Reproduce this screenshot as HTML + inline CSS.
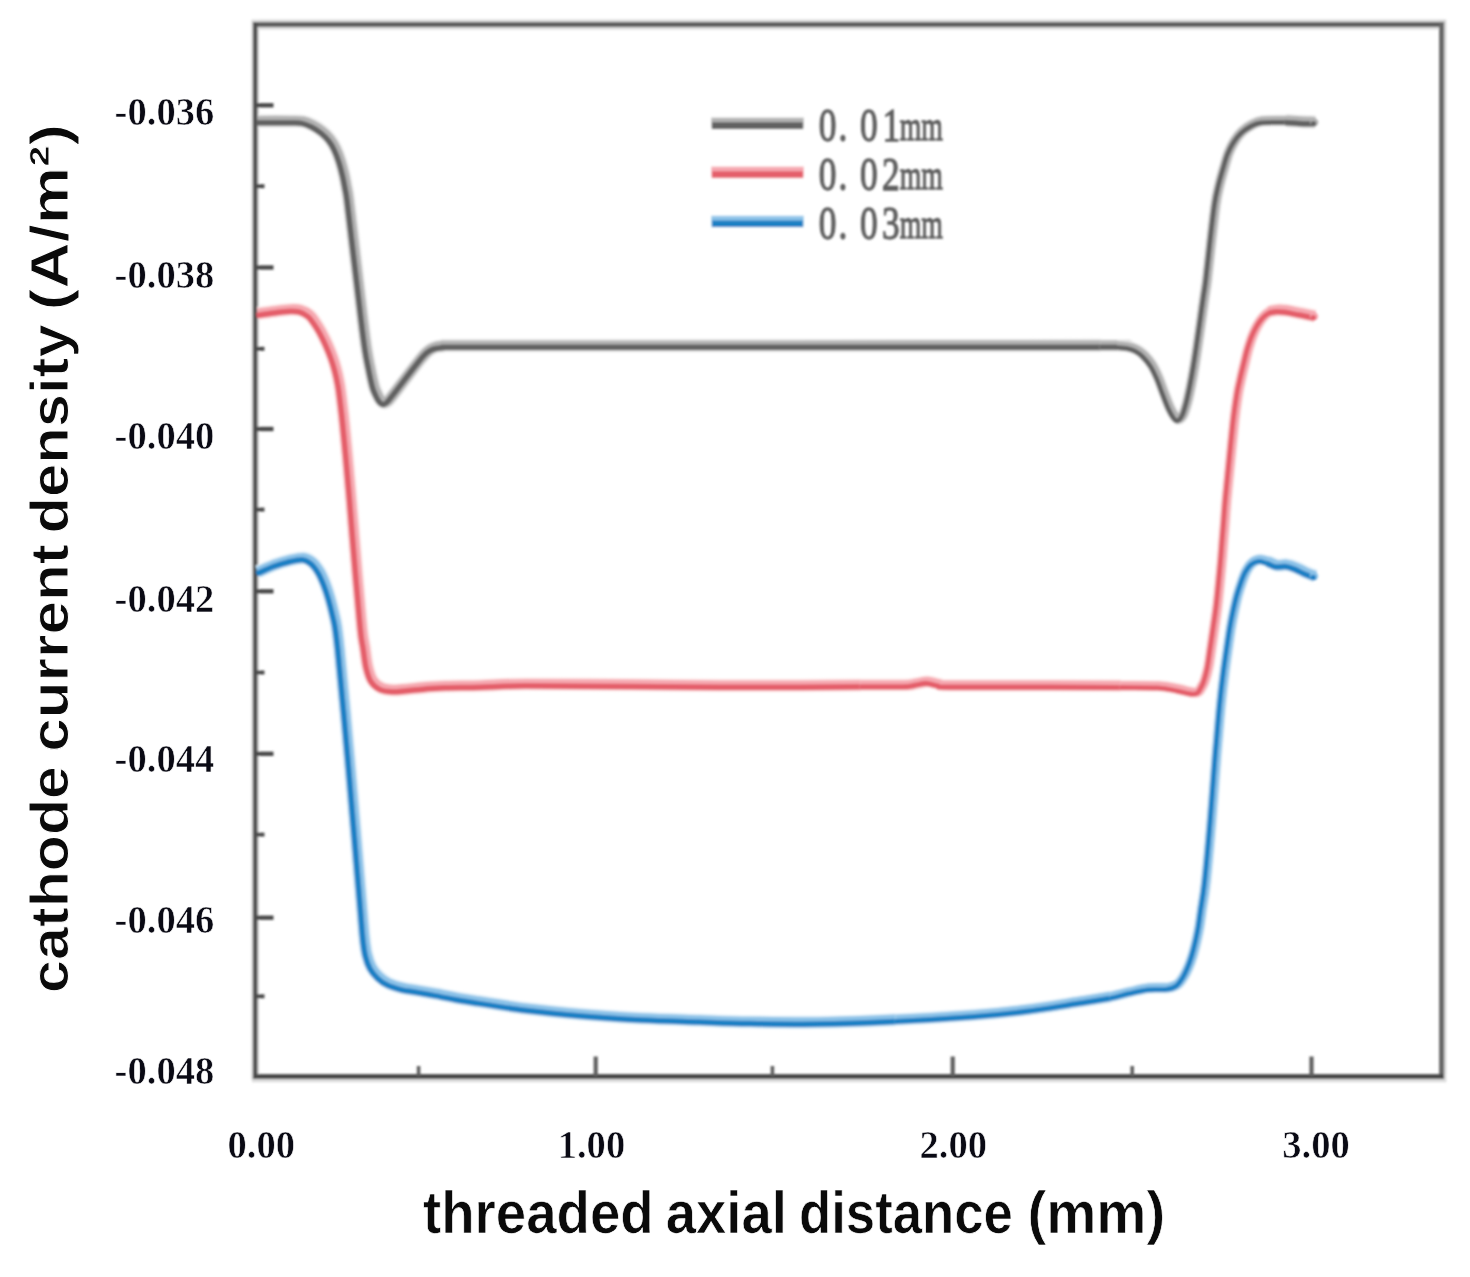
<!DOCTYPE html>
<html lang="en">
<head>
<meta charset="utf-8">
<title>Cathode current density vs threaded axial distance</title>
<style>
html,body{margin:0;padding:0;background:#fff;}
body{width:1470px;height:1277px;overflow:hidden;}
svg{display:block;}
.tick{font-family:"Liberation Serif","DejaVu Serif",serif;font-weight:bold;font-size:38.6px;fill:#0a0a14;stroke:#ffffff;stroke-width:0.6px;}
.title{font-family:"Liberation Sans","DejaVu Sans",sans-serif;font-weight:bold;font-size:56px;fill:#0a0a0a;stroke:#ffffff;stroke-width:0.7px;}
.leg{font-family:"Liberation Serif","Noto Serif CJK SC",serif;font-size:42px;fill:#5e5e5e;stroke:#5e5e5e;stroke-width:1.25px;}
</style>
</head>
<body>
<svg width="1470" height="1277" viewBox="0 0 1470 1277">
<defs>
<filter id="soft" x="-2%" y="-2%" width="104%" height="104%"><feGaussianBlur stdDeviation="0.9"/></filter>
<filter id="soft2" x="-5%" y="-20%" width="110%" height="140%"><feGaussianBlur stdDeviation="0.8"/></filter>
</defs>
<rect x="0" y="0" width="1470" height="1277" fill="#ffffff"/>
<g filter="url(#soft)">
<g fill="none" stroke-linecap="butt">
<line x1="252" y1="24.5" x2="1446" y2="24.5" stroke="#dadada" stroke-width="10"/>
<line x1="1442.6" y1="20" x2="1442.6" y2="1082" stroke="#d6d6d6" stroke-width="7.5"/>
<line x1="252" y1="1078" x2="1446" y2="1078" stroke="#dcdcdc" stroke-width="8.5"/>
<line x1="255.2" y1="20" x2="255.2" y2="1080" stroke="#dedede" stroke-width="8"/>
<line x1="253" y1="24.5" x2="1444" y2="24.5" stroke="#5e5e5e" stroke-width="5.2"/>
<line x1="1441.6" y1="22" x2="1441.6" y2="1079" stroke="#666666" stroke-width="5"/>
<line x1="255.2" y1="22" x2="255.2" y2="1079" stroke="#505050" stroke-width="4.6"/>
<line x1="253" y1="1076.6" x2="1444" y2="1076.6" stroke="#484848" stroke-width="5"/>
<line x1="256" y1="105.3" x2="273.5" y2="105.3" stroke="#4a4a4a" stroke-width="4.4"/>
<line x1="256" y1="267.5" x2="273.5" y2="267.5" stroke="#4a4a4a" stroke-width="4.4"/>
<line x1="256" y1="429.0" x2="273.5" y2="429.0" stroke="#4a4a4a" stroke-width="4.4"/>
<line x1="256" y1="591.3" x2="273.5" y2="591.3" stroke="#4a4a4a" stroke-width="4.4"/>
<line x1="256" y1="753.8" x2="273.5" y2="753.8" stroke="#4a4a4a" stroke-width="4.4"/>
<line x1="256" y1="917.7" x2="273.5" y2="917.7" stroke="#4a4a4a" stroke-width="4.4"/>
<line x1="256" y1="186.2" x2="264.5" y2="186.2" stroke="#4a4a4a" stroke-width="4"/>
<line x1="256" y1="348.8" x2="264.5" y2="348.8" stroke="#4a4a4a" stroke-width="4"/>
<line x1="256" y1="509.6" x2="264.5" y2="509.6" stroke="#4a4a4a" stroke-width="4"/>
<line x1="256" y1="672.5" x2="264.5" y2="672.5" stroke="#4a4a4a" stroke-width="4"/>
<line x1="256" y1="834.6" x2="264.5" y2="834.6" stroke="#4a4a4a" stroke-width="4"/>
<line x1="256" y1="996.3" x2="264.5" y2="996.3" stroke="#4a4a4a" stroke-width="4"/>
<line x1="595.7" y1="1056.5" x2="595.7" y2="1076" stroke="#606060" stroke-width="4.2"/>
<line x1="952.7" y1="1056.5" x2="952.7" y2="1076" stroke="#606060" stroke-width="4.2"/>
<line x1="1311.5" y1="1056.5" x2="1311.5" y2="1076" stroke="#606060" stroke-width="4.2"/>
<line x1="418.6" y1="1066" x2="418.6" y2="1076" stroke="#606060" stroke-width="3.6"/>
<line x1="772.4" y1="1066" x2="772.4" y2="1076" stroke="#606060" stroke-width="3.6"/>
<line x1="1132.2" y1="1066" x2="1132.2" y2="1076" stroke="#606060" stroke-width="3.6"/>
</g>
<g fill="none" stroke-linecap="butt" stroke-linejoin="round">
<path d="M257.0,122.0 C262.7,122.0 283.4,121.9 291.0,122.0 C298.6,122.1 298.9,121.9 302.4,122.6 C305.9,123.3 308.7,124.6 311.9,126.2 C315.1,127.8 318.5,130.1 321.4,132.4 C324.2,134.7 326.8,137.2 329.0,140.0 C331.2,142.8 333.1,145.8 334.8,149.5 C336.6,153.2 338.1,157.5 339.5,161.9 C340.9,166.3 342.3,171.8 343.3,176.2 C344.3,180.5 344.9,184.0 345.6,188.0 C346.3,192.0 346.5,191.3 347.6,200.0 C348.7,208.7 350.7,226.7 352.3,240.0 C353.9,253.3 355.4,266.7 357.0,280.0 C358.6,293.3 360.3,308.3 361.7,320.0 C363.1,331.7 364.4,341.9 365.6,350.0 C366.8,358.1 367.8,362.4 369.0,368.5 C370.2,374.6 371.8,382.2 373.0,386.7 C374.2,391.2 375.4,393.1 376.5,395.5 C377.6,397.9 378.5,399.6 379.6,401.0 C380.7,402.4 382.0,403.6 383.3,403.7 C384.6,403.8 385.9,402.8 387.2,401.7 C388.5,400.6 388.6,400.3 391.0,397.3 C393.4,394.3 398.3,388.0 401.6,383.6 C404.9,379.2 408.2,374.9 411.0,371.2 C413.8,367.5 416.2,364.4 418.5,361.6 C420.8,358.8 422.6,356.5 424.5,354.6 C426.4,352.7 428.1,351.2 430.0,350.1 C431.9,349.0 433.8,348.2 436.0,347.7 C438.2,347.1 440.3,347.0 443.0,346.8 C445.7,346.6 434.2,346.6 452.0,346.5 C469.8,346.4 492.0,346.5 550.0,346.5 C608.0,346.5 708.3,346.5 800.0,346.5 C891.7,346.5 1047.3,346.4 1100.0,346.4" stroke="#ececec" stroke-width="13.6" transform="translate(1,-1)"/>
<path d="M257.0,122.0 C262.7,122.0 283.4,121.9 291.0,122.0 C298.6,122.1 298.9,121.9 302.4,122.6 C305.9,123.3 308.7,124.6 311.9,126.2 C315.1,127.8 318.5,130.1 321.4,132.4 C324.2,134.7 326.8,137.2 329.0,140.0 C331.2,142.8 333.1,145.8 334.8,149.5 C336.6,153.2 338.1,157.5 339.5,161.9 C340.9,166.3 342.3,171.8 343.3,176.2 C344.3,180.5 344.9,184.0 345.6,188.0 C346.3,192.0 346.5,191.3 347.6,200.0 C348.7,208.7 350.7,226.7 352.3,240.0 C353.9,253.3 355.4,266.7 357.0,280.0 C358.6,293.3 360.3,308.3 361.7,320.0 C363.1,331.7 364.4,341.9 365.6,350.0 C366.8,358.1 367.8,362.4 369.0,368.5 C370.2,374.6 371.8,382.2 373.0,386.7 C374.2,391.2 375.4,393.1 376.5,395.5 C377.6,397.9 378.5,399.6 379.6,401.0 C380.7,402.4 382.0,403.6 383.3,403.7 C384.6,403.8 385.9,402.8 387.2,401.7 C388.5,400.6 388.6,400.3 391.0,397.3 C393.4,394.3 398.3,388.0 401.6,383.6 C404.9,379.2 408.2,374.9 411.0,371.2 C413.8,367.5 416.2,364.4 418.5,361.6 C420.8,358.8 422.6,356.5 424.5,354.6 C426.4,352.7 428.1,351.2 430.0,350.1 C431.9,349.0 433.8,348.2 436.0,347.7 C438.2,347.1 440.3,347.0 443.0,346.8 C445.7,346.6 434.2,346.6 452.0,346.5 C469.8,346.4 492.0,346.5 550.0,346.5 C608.0,346.5 708.3,346.5 800.0,346.5 C891.7,346.5 1047.3,346.4 1100.0,346.4" stroke="#b2b2b2" stroke-width="10.4" transform="translate(0.8,-0.9)"/>
<path d="M257.0,122.0 C262.7,122.0 283.4,121.9 291.0,122.0 C298.6,122.1 298.9,121.9 302.4,122.6 C305.9,123.3 308.7,124.6 311.9,126.2 C315.1,127.8 318.5,130.1 321.4,132.4 C324.2,134.7 326.8,137.2 329.0,140.0 C331.2,142.8 333.1,145.8 334.8,149.5 C336.6,153.2 338.1,157.5 339.5,161.9 C340.9,166.3 342.3,171.8 343.3,176.2 C344.3,180.5 344.9,184.0 345.6,188.0 C346.3,192.0 346.5,191.3 347.6,200.0 C348.7,208.7 350.7,226.7 352.3,240.0 C353.9,253.3 355.4,266.7 357.0,280.0 C358.6,293.3 360.3,308.3 361.7,320.0 C363.1,331.7 364.4,341.9 365.6,350.0 C366.8,358.1 367.8,362.4 369.0,368.5 C370.2,374.6 371.8,382.2 373.0,386.7 C374.2,391.2 375.4,393.1 376.5,395.5 C377.6,397.9 378.5,399.6 379.6,401.0 C380.7,402.4 382.0,403.6 383.3,403.7 C384.6,403.8 385.9,402.8 387.2,401.7 C388.5,400.6 388.6,400.3 391.0,397.3 C393.4,394.3 398.3,388.0 401.6,383.6 C404.9,379.2 408.2,374.9 411.0,371.2 C413.8,367.5 416.2,364.4 418.5,361.6 C420.8,358.8 422.6,356.5 424.5,354.6 C426.4,352.7 428.1,351.2 430.0,350.1 C431.9,349.0 433.8,348.2 436.0,347.7 C438.2,347.1 440.3,347.0 443.0,346.8 C445.7,346.6 434.2,346.6 452.0,346.5 C469.8,346.4 492.0,346.5 550.0,346.5 C608.0,346.5 708.3,346.5 800.0,346.5 C891.7,346.5 1047.3,346.4 1100.0,346.4" stroke="#626262" stroke-width="5.5" transform="translate(-0.5,0.8)"/>
<path d="M1100.0,346.4 C1152.7,346.4 1111.5,346.3 1116.0,346.5" stroke="#ececec" stroke-width="12.9" transform="translate(1,-1)"/>
<path d="M1100.0,346.4 C1152.7,346.4 1111.5,346.3 1116.0,346.5" stroke="#b2b2b2" stroke-width="9.9" transform="translate(0.8,-0.9)"/>
<path d="M1100.0,346.4 C1152.7,346.4 1111.5,346.3 1116.0,346.5" stroke="#626262" stroke-width="5.2" transform="translate(-0.5,0.8)"/>
<path d="M1116.0,346.5 C1120.5,346.7 1123.8,347.0 1127.0,347.6 C1130.2,348.2 1132.8,349.0 1135.5,350.4 C1138.2,351.8 1140.7,353.6 1143.3,356.2 C1145.9,358.8 1148.6,361.9 1151.0,365.7 C1153.4,369.5 1155.5,374.2 1157.6,379.0 C1159.6,383.8 1161.4,389.4 1163.3,394.3 C1165.2,399.2 1167.2,404.8 1169.0,408.6 C1170.8,412.4 1172.4,415.2 1173.8,417.1 C1175.2,419.0 1176.2,420.3 1177.6,420.0 C1179.0,419.7 1181.0,417.9 1182.4,415.2 C1183.8,412.5 1184.9,408.6 1186.2,403.8 C1187.5,399.1 1188.7,393.1 1190.0,386.7 C1191.3,380.3 1192.7,372.4 1193.8,365.7 C1194.9,359.0 1195.6,354.3 1196.7,346.7 C1197.8,339.1 1199.4,327.8 1200.5,320.0 C1201.6,312.2 1202.3,306.7 1203.3,300.0 C1204.2,293.3 1205.1,289.2 1206.2,280.0 C1207.3,270.8 1208.6,257.5 1210.0,245.0 C1211.4,232.5 1213.4,214.7 1214.8,204.8 C1216.2,194.9 1217.2,191.7 1218.6,185.7 C1220.0,179.7 1221.7,174.0 1223.3,168.6 C1224.9,163.2 1226.2,157.8 1228.0,153.3 C1229.8,148.9 1231.6,145.4 1233.8,141.9 C1236.0,138.4 1238.5,135.1 1241.4,132.4 C1244.3,129.7 1247.7,127.4 1251.0,125.7 C1254.3,124.0 1255.7,122.7 1261.4,122.0 C1267.1,121.3 1278.8,121.5 1285.2,121.6" stroke="#ececec" stroke-width="12.0" transform="translate(1,-1)"/>
<path d="M1116.0,346.5 C1120.5,346.7 1123.8,347.0 1127.0,347.6 C1130.2,348.2 1132.8,349.0 1135.5,350.4 C1138.2,351.8 1140.7,353.6 1143.3,356.2 C1145.9,358.8 1148.6,361.9 1151.0,365.7 C1153.4,369.5 1155.5,374.2 1157.6,379.0 C1159.6,383.8 1161.4,389.4 1163.3,394.3 C1165.2,399.2 1167.2,404.8 1169.0,408.6 C1170.8,412.4 1172.4,415.2 1173.8,417.1 C1175.2,419.0 1176.2,420.3 1177.6,420.0 C1179.0,419.7 1181.0,417.9 1182.4,415.2 C1183.8,412.5 1184.9,408.6 1186.2,403.8 C1187.5,399.1 1188.7,393.1 1190.0,386.7 C1191.3,380.3 1192.7,372.4 1193.8,365.7 C1194.9,359.0 1195.6,354.3 1196.7,346.7 C1197.8,339.1 1199.4,327.8 1200.5,320.0 C1201.6,312.2 1202.3,306.7 1203.3,300.0 C1204.2,293.3 1205.1,289.2 1206.2,280.0 C1207.3,270.8 1208.6,257.5 1210.0,245.0 C1211.4,232.5 1213.4,214.7 1214.8,204.8 C1216.2,194.9 1217.2,191.7 1218.6,185.7 C1220.0,179.7 1221.7,174.0 1223.3,168.6 C1224.9,163.2 1226.2,157.8 1228.0,153.3 C1229.8,148.9 1231.6,145.4 1233.8,141.9 C1236.0,138.4 1238.5,135.1 1241.4,132.4 C1244.3,129.7 1247.7,127.4 1251.0,125.7 C1254.3,124.0 1255.7,122.7 1261.4,122.0 C1267.1,121.3 1278.8,121.5 1285.2,121.6" stroke="#b2b2b2" stroke-width="9.2" transform="translate(0.8,-0.9)"/>
<path d="M1116.0,346.5 C1120.5,346.7 1123.8,347.0 1127.0,347.6 C1130.2,348.2 1132.8,349.0 1135.5,350.4 C1138.2,351.8 1140.7,353.6 1143.3,356.2 C1145.9,358.8 1148.6,361.9 1151.0,365.7 C1153.4,369.5 1155.5,374.2 1157.6,379.0 C1159.6,383.8 1161.4,389.4 1163.3,394.3 C1165.2,399.2 1167.2,404.8 1169.0,408.6 C1170.8,412.4 1172.4,415.2 1173.8,417.1 C1175.2,419.0 1176.2,420.3 1177.6,420.0 C1179.0,419.7 1181.0,417.9 1182.4,415.2 C1183.8,412.5 1184.9,408.6 1186.2,403.8 C1187.5,399.1 1188.7,393.1 1190.0,386.7 C1191.3,380.3 1192.7,372.4 1193.8,365.7 C1194.9,359.0 1195.6,354.3 1196.7,346.7 C1197.8,339.1 1199.4,327.8 1200.5,320.0 C1201.6,312.2 1202.3,306.7 1203.3,300.0 C1204.2,293.3 1205.1,289.2 1206.2,280.0 C1207.3,270.8 1208.6,257.5 1210.0,245.0 C1211.4,232.5 1213.4,214.7 1214.8,204.8 C1216.2,194.9 1217.2,191.7 1218.6,185.7 C1220.0,179.7 1221.7,174.0 1223.3,168.6 C1224.9,163.2 1226.2,157.8 1228.0,153.3 C1229.8,148.9 1231.6,145.4 1233.8,141.9 C1236.0,138.4 1238.5,135.1 1241.4,132.4 C1244.3,129.7 1247.7,127.4 1251.0,125.7 C1254.3,124.0 1255.7,122.7 1261.4,122.0 C1267.1,121.3 1278.8,121.5 1285.2,121.6" stroke="#626262" stroke-width="4.8" transform="translate(-0.5,0.8)"/>
<path d="M1285.2,121.6 C1291.6,121.7 1295.1,122.4 1300.0,122.6 C1304.9,122.8 1312.1,122.9 1314.5,123.0" stroke="#ececec" stroke-width="13.6" transform="translate(1,-1)"/>
<path d="M1285.2,121.6 C1291.6,121.7 1295.1,122.4 1300.0,122.6 C1304.9,122.8 1312.1,122.9 1314.5,123.0" stroke="#b2b2b2" stroke-width="10.4" transform="translate(0.8,-0.9)"/>
<path d="M1285.2,121.6 C1291.6,121.7 1295.1,122.4 1300.0,122.6 C1304.9,122.8 1312.1,122.9 1314.5,123.0" stroke="#626262" stroke-width="5.5" transform="translate(-0.5,0.8)"/>
<path d="M257.0,314.6 C259.8,314.2 268.3,312.9 273.8,312.2 C279.3,311.5 285.7,310.7 290.0,310.5 C294.3,310.3 296.5,310.3 299.6,311.2 C302.7,312.1 306.2,314.0 308.6,316.0 C311.0,318.0 312.3,320.2 314.2,323.0 C316.1,325.8 318.1,328.8 320.1,332.5 C322.1,336.2 324.4,340.7 326.3,345.0 C328.2,349.3 330.2,354.3 331.7,358.5 C333.2,362.7 334.1,365.9 335.2,370.0 C336.3,374.1 337.4,379.2 338.1,383.0 C338.9,386.8 339.0,387.7 339.7,393.0 C340.4,398.3 341.5,407.5 342.3,414.8 C343.1,422.1 343.6,427.7 344.5,436.8 C345.4,445.9 346.6,459.1 347.5,469.6 C348.4,480.1 349.1,488.3 350.1,500.0 C351.1,511.7 352.2,526.7 353.3,540.0 C354.4,553.3 355.6,568.0 356.6,580.0 C357.6,592.0 358.6,602.8 359.4,612.0 C360.2,621.2 360.9,628.9 361.6,635.0 C362.3,641.1 363.0,643.2 363.8,648.6 C364.6,654.0 365.4,662.2 366.7,667.6 C368.0,673.0 369.2,677.5 371.4,681.0 C373.6,684.5 376.5,686.9 380.0,688.6 C383.5,690.3 387.9,690.8 392.4,691.0 C396.8,691.2 401.1,690.5 406.7,690.0 C412.2,689.5 419.3,688.6 425.7,688.1 C432.1,687.6 435.8,687.3 444.8,687.0 C453.9,686.7 466.6,686.8 480.0,686.5 C493.4,686.2 500.0,685.1 525.0,685.0 C550.0,684.9 597.5,685.5 630.0,685.7 C662.5,686.0 691.7,686.4 720.0,686.5 C748.3,686.6 776.7,686.6 800.0,686.5 C823.3,686.4 842.8,686.1 860.0,686.0" stroke="#fde8e8" stroke-width="13.6" transform="translate(1,-1)"/>
<path d="M257.0,314.6 C259.8,314.2 268.3,312.9 273.8,312.2 C279.3,311.5 285.7,310.7 290.0,310.5 C294.3,310.3 296.5,310.3 299.6,311.2 C302.7,312.1 306.2,314.0 308.6,316.0 C311.0,318.0 312.3,320.2 314.2,323.0 C316.1,325.8 318.1,328.8 320.1,332.5 C322.1,336.2 324.4,340.7 326.3,345.0 C328.2,349.3 330.2,354.3 331.7,358.5 C333.2,362.7 334.1,365.9 335.2,370.0 C336.3,374.1 337.4,379.2 338.1,383.0 C338.9,386.8 339.0,387.7 339.7,393.0 C340.4,398.3 341.5,407.5 342.3,414.8 C343.1,422.1 343.6,427.7 344.5,436.8 C345.4,445.9 346.6,459.1 347.5,469.6 C348.4,480.1 349.1,488.3 350.1,500.0 C351.1,511.7 352.2,526.7 353.3,540.0 C354.4,553.3 355.6,568.0 356.6,580.0 C357.6,592.0 358.6,602.8 359.4,612.0 C360.2,621.2 360.9,628.9 361.6,635.0 C362.3,641.1 363.0,643.2 363.8,648.6 C364.6,654.0 365.4,662.2 366.7,667.6 C368.0,673.0 369.2,677.5 371.4,681.0 C373.6,684.5 376.5,686.9 380.0,688.6 C383.5,690.3 387.9,690.8 392.4,691.0 C396.8,691.2 401.1,690.5 406.7,690.0 C412.2,689.5 419.3,688.6 425.7,688.1 C432.1,687.6 435.8,687.3 444.8,687.0 C453.9,686.7 466.6,686.8 480.0,686.5 C493.4,686.2 500.0,685.1 525.0,685.0 C550.0,684.9 597.5,685.5 630.0,685.7 C662.5,686.0 691.7,686.4 720.0,686.5 C748.3,686.6 776.7,686.6 800.0,686.5 C823.3,686.4 842.8,686.1 860.0,686.0" stroke="#f6a8b0" stroke-width="10.4" transform="translate(0.8,-0.9)"/>
<path d="M257.0,314.6 C259.8,314.2 268.3,312.9 273.8,312.2 C279.3,311.5 285.7,310.7 290.0,310.5 C294.3,310.3 296.5,310.3 299.6,311.2 C302.7,312.1 306.2,314.0 308.6,316.0 C311.0,318.0 312.3,320.2 314.2,323.0 C316.1,325.8 318.1,328.8 320.1,332.5 C322.1,336.2 324.4,340.7 326.3,345.0 C328.2,349.3 330.2,354.3 331.7,358.5 C333.2,362.7 334.1,365.9 335.2,370.0 C336.3,374.1 337.4,379.2 338.1,383.0 C338.9,386.8 339.0,387.7 339.7,393.0 C340.4,398.3 341.5,407.5 342.3,414.8 C343.1,422.1 343.6,427.7 344.5,436.8 C345.4,445.9 346.6,459.1 347.5,469.6 C348.4,480.1 349.1,488.3 350.1,500.0 C351.1,511.7 352.2,526.7 353.3,540.0 C354.4,553.3 355.6,568.0 356.6,580.0 C357.6,592.0 358.6,602.8 359.4,612.0 C360.2,621.2 360.9,628.9 361.6,635.0 C362.3,641.1 363.0,643.2 363.8,648.6 C364.6,654.0 365.4,662.2 366.7,667.6 C368.0,673.0 369.2,677.5 371.4,681.0 C373.6,684.5 376.5,686.9 380.0,688.6 C383.5,690.3 387.9,690.8 392.4,691.0 C396.8,691.2 401.1,690.5 406.7,690.0 C412.2,689.5 419.3,688.6 425.7,688.1 C432.1,687.6 435.8,687.3 444.8,687.0 C453.9,686.7 466.6,686.8 480.0,686.5 C493.4,686.2 500.0,685.1 525.0,685.0 C550.0,684.9 597.5,685.5 630.0,685.7 C662.5,686.0 691.7,686.4 720.0,686.5 C748.3,686.6 776.7,686.6 800.0,686.5 C823.3,686.4 842.8,686.1 860.0,686.0" stroke="#e45e6a" stroke-width="5.5" transform="translate(-0.5,0.8)"/>
<path d="M860.0,686.0 C877.2,685.9 893.8,686.2 903.0,686.0 C912.2,685.8 911.0,685.2 915.0,684.6 C919.0,684.0 922.9,682.5 926.7,682.6 C930.5,682.7 934.1,684.4 938.0,685.0 C941.9,685.6 931.3,686.2 950.0,686.4 C968.7,686.6 1021.7,686.3 1050.0,686.4 C1078.3,686.5 1102.0,686.6 1120.0,686.7" stroke="#fde8e8" stroke-width="12.9" transform="translate(1,-1)"/>
<path d="M860.0,686.0 C877.2,685.9 893.8,686.2 903.0,686.0 C912.2,685.8 911.0,685.2 915.0,684.6 C919.0,684.0 922.9,682.5 926.7,682.6 C930.5,682.7 934.1,684.4 938.0,685.0 C941.9,685.6 931.3,686.2 950.0,686.4 C968.7,686.6 1021.7,686.3 1050.0,686.4 C1078.3,686.5 1102.0,686.6 1120.0,686.7" stroke="#f6a8b0" stroke-width="9.9" transform="translate(0.8,-0.9)"/>
<path d="M860.0,686.0 C877.2,685.9 893.8,686.2 903.0,686.0 C912.2,685.8 911.0,685.2 915.0,684.6 C919.0,684.0 922.9,682.5 926.7,682.6 C930.5,682.7 934.1,684.4 938.0,685.0 C941.9,685.6 931.3,686.2 950.0,686.4 C968.7,686.6 1021.7,686.3 1050.0,686.4 C1078.3,686.5 1102.0,686.6 1120.0,686.7" stroke="#e45e6a" stroke-width="5.2" transform="translate(-0.5,0.8)"/>
<path d="M1120.0,686.7 C1138.0,686.8 1148.5,686.6 1158.0,687.1 C1167.5,687.6 1172.0,689.1 1177.0,690.0 C1182.0,690.9 1185.2,692.0 1188.0,692.6 C1190.8,693.2 1192.3,693.5 1194.0,693.4 C1195.7,693.3 1197.0,692.9 1198.3,691.8 C1199.6,690.6 1200.6,688.3 1201.6,686.5 C1202.6,684.7 1203.1,684.1 1204.1,681.0 C1205.1,677.9 1206.5,673.0 1207.6,667.6 C1208.7,662.2 1209.5,655.0 1210.5,648.6 C1211.5,642.2 1212.2,636.9 1213.3,629.5 C1214.3,622.1 1215.6,614.8 1216.8,604.0 C1218.0,593.2 1219.6,575.7 1220.6,565.0 C1221.6,554.3 1222.0,547.5 1222.6,540.0 C1223.2,532.5 1223.7,526.7 1224.2,520.0 C1224.7,513.3 1224.9,509.0 1225.7,500.0 C1226.5,491.0 1227.7,478.8 1229.0,466.0 C1230.3,453.2 1232.0,434.9 1233.3,423.0 C1234.6,411.1 1236.0,401.9 1237.1,394.8 C1238.2,387.7 1238.9,385.6 1240.0,380.5 C1241.1,375.4 1242.5,369.6 1243.8,364.3 C1245.1,359.1 1246.3,353.4 1247.6,349.0 C1248.9,344.6 1250.0,341.2 1251.4,337.6 C1252.8,334.0 1254.5,330.3 1256.2,327.1 C1258.0,323.9 1259.8,321.0 1261.9,318.6 C1264.0,316.2 1266.2,314.2 1268.6,312.9" stroke="#fde8e8" stroke-width="12.0" transform="translate(1,-1)"/>
<path d="M1120.0,686.7 C1138.0,686.8 1148.5,686.6 1158.0,687.1 C1167.5,687.6 1172.0,689.1 1177.0,690.0 C1182.0,690.9 1185.2,692.0 1188.0,692.6 C1190.8,693.2 1192.3,693.5 1194.0,693.4 C1195.7,693.3 1197.0,692.9 1198.3,691.8 C1199.6,690.6 1200.6,688.3 1201.6,686.5 C1202.6,684.7 1203.1,684.1 1204.1,681.0 C1205.1,677.9 1206.5,673.0 1207.6,667.6 C1208.7,662.2 1209.5,655.0 1210.5,648.6 C1211.5,642.2 1212.2,636.9 1213.3,629.5 C1214.3,622.1 1215.6,614.8 1216.8,604.0 C1218.0,593.2 1219.6,575.7 1220.6,565.0 C1221.6,554.3 1222.0,547.5 1222.6,540.0 C1223.2,532.5 1223.7,526.7 1224.2,520.0 C1224.7,513.3 1224.9,509.0 1225.7,500.0 C1226.5,491.0 1227.7,478.8 1229.0,466.0 C1230.3,453.2 1232.0,434.9 1233.3,423.0 C1234.6,411.1 1236.0,401.9 1237.1,394.8 C1238.2,387.7 1238.9,385.6 1240.0,380.5 C1241.1,375.4 1242.5,369.6 1243.8,364.3 C1245.1,359.1 1246.3,353.4 1247.6,349.0 C1248.9,344.6 1250.0,341.2 1251.4,337.6 C1252.8,334.0 1254.5,330.3 1256.2,327.1 C1258.0,323.9 1259.8,321.0 1261.9,318.6 C1264.0,316.2 1266.2,314.2 1268.6,312.9" stroke="#f6a8b0" stroke-width="9.2" transform="translate(0.8,-0.9)"/>
<path d="M1120.0,686.7 C1138.0,686.8 1148.5,686.6 1158.0,687.1 C1167.5,687.6 1172.0,689.1 1177.0,690.0 C1182.0,690.9 1185.2,692.0 1188.0,692.6 C1190.8,693.2 1192.3,693.5 1194.0,693.4 C1195.7,693.3 1197.0,692.9 1198.3,691.8 C1199.6,690.6 1200.6,688.3 1201.6,686.5 C1202.6,684.7 1203.1,684.1 1204.1,681.0 C1205.1,677.9 1206.5,673.0 1207.6,667.6 C1208.7,662.2 1209.5,655.0 1210.5,648.6 C1211.5,642.2 1212.2,636.9 1213.3,629.5 C1214.3,622.1 1215.6,614.8 1216.8,604.0 C1218.0,593.2 1219.6,575.7 1220.6,565.0 C1221.6,554.3 1222.0,547.5 1222.6,540.0 C1223.2,532.5 1223.7,526.7 1224.2,520.0 C1224.7,513.3 1224.9,509.0 1225.7,500.0 C1226.5,491.0 1227.7,478.8 1229.0,466.0 C1230.3,453.2 1232.0,434.9 1233.3,423.0 C1234.6,411.1 1236.0,401.9 1237.1,394.8 C1238.2,387.7 1238.9,385.6 1240.0,380.5 C1241.1,375.4 1242.5,369.6 1243.8,364.3 C1245.1,359.1 1246.3,353.4 1247.6,349.0 C1248.9,344.6 1250.0,341.2 1251.4,337.6 C1252.8,334.0 1254.5,330.3 1256.2,327.1 C1258.0,323.9 1259.8,321.0 1261.9,318.6 C1264.0,316.2 1266.2,314.2 1268.6,312.9" stroke="#e45e6a" stroke-width="4.8" transform="translate(-0.5,0.8)"/>
<path d="M1268.6,312.9 C1271.0,311.6 1273.3,311.2 1276.2,311.0 C1279.1,310.8 1282.5,311.0 1285.7,311.4 C1288.9,311.8 1292.0,312.7 1295.2,313.3 C1298.4,313.9 1301.6,314.6 1304.8,315.2 C1308.0,315.8 1312.7,316.8 1314.3,317.1" stroke="#fde8e8" stroke-width="13.6" transform="translate(1,-1)"/>
<path d="M1268.6,312.9 C1271.0,311.6 1273.3,311.2 1276.2,311.0 C1279.1,310.8 1282.5,311.0 1285.7,311.4 C1288.9,311.8 1292.0,312.7 1295.2,313.3 C1298.4,313.9 1301.6,314.6 1304.8,315.2 C1308.0,315.8 1312.7,316.8 1314.3,317.1" stroke="#f6a8b0" stroke-width="10.4" transform="translate(0.8,-0.9)"/>
<path d="M1268.6,312.9 C1271.0,311.6 1273.3,311.2 1276.2,311.0 C1279.1,310.8 1282.5,311.0 1285.7,311.4 C1288.9,311.8 1292.0,312.7 1295.2,313.3 C1298.4,313.9 1301.6,314.6 1304.8,315.2 C1308.0,315.8 1312.7,316.8 1314.3,317.1" stroke="#e45e6a" stroke-width="5.5" transform="translate(-0.5,0.8)"/>
<path d="M257.0,573.0 C259.8,571.8 268.6,567.6 273.8,565.7 C279.0,563.8 283.3,562.5 288.1,561.4 C292.9,560.3 298.6,558.8 302.4,559.0 C306.2,559.2 308.3,560.7 311.0,562.9 C313.7,565.1 316.4,568.8 318.6,572.4 C320.8,576.0 322.6,580.4 324.3,584.8 C326.0,589.2 327.6,594.1 329.0,599.0 C330.4,603.9 331.8,609.5 332.9,614.3 C334.0,619.1 334.8,621.6 335.7,627.6 C336.6,633.6 337.5,641.3 338.4,650.0 C339.3,658.7 340.2,669.3 341.2,680.0 C342.2,690.7 343.2,701.2 344.4,714.0 C345.6,726.8 346.7,739.2 348.2,757.0 C349.7,774.8 351.9,800.1 353.6,821.0 C355.4,841.9 357.5,867.6 358.7,882.4 C359.9,897.2 360.2,900.6 361.0,910.0 C361.8,919.4 362.6,931.0 363.4,938.6 C364.2,946.2 364.8,950.8 366.0,955.7 C367.2,960.6 368.5,964.5 370.5,968.1 C372.5,971.8 375.2,974.9 378.1,977.6 C381.0,980.3 383.6,982.4 387.6,984.3 C391.6,986.2 397.1,987.8 401.9,989.0 C406.7,990.2 410.6,990.4 416.2,991.4 C421.8,992.4 428.8,993.6 435.2,994.8 C441.6,996.0 448.5,997.5 454.3,998.6 C460.1,999.7 457.9,999.3 470.0,1001.2 C482.1,1003.1 507.9,1007.4 527.0,1009.8 C546.0,1012.2 565.2,1013.9 584.3,1015.5 C603.4,1017.1 622.3,1018.3 641.4,1019.3 C660.5,1020.3 680.5,1020.7 698.6,1021.3 C716.7,1021.9 730.2,1022.5 750.0,1022.8 C769.8,1023.1 793.4,1023.6 817.6,1023.3 C841.8,1022.9 869.1,1021.9 895.0,1020.7" stroke="#e2f0f9" stroke-width="13.6" transform="translate(1,-1)"/>
<path d="M257.0,573.0 C259.8,571.8 268.6,567.6 273.8,565.7 C279.0,563.8 283.3,562.5 288.1,561.4 C292.9,560.3 298.6,558.8 302.4,559.0 C306.2,559.2 308.3,560.7 311.0,562.9 C313.7,565.1 316.4,568.8 318.6,572.4 C320.8,576.0 322.6,580.4 324.3,584.8 C326.0,589.2 327.6,594.1 329.0,599.0 C330.4,603.9 331.8,609.5 332.9,614.3 C334.0,619.1 334.8,621.6 335.7,627.6 C336.6,633.6 337.5,641.3 338.4,650.0 C339.3,658.7 340.2,669.3 341.2,680.0 C342.2,690.7 343.2,701.2 344.4,714.0 C345.6,726.8 346.7,739.2 348.2,757.0 C349.7,774.8 351.9,800.1 353.6,821.0 C355.4,841.9 357.5,867.6 358.7,882.4 C359.9,897.2 360.2,900.6 361.0,910.0 C361.8,919.4 362.6,931.0 363.4,938.6 C364.2,946.2 364.8,950.8 366.0,955.7 C367.2,960.6 368.5,964.5 370.5,968.1 C372.5,971.8 375.2,974.9 378.1,977.6 C381.0,980.3 383.6,982.4 387.6,984.3 C391.6,986.2 397.1,987.8 401.9,989.0 C406.7,990.2 410.6,990.4 416.2,991.4 C421.8,992.4 428.8,993.6 435.2,994.8 C441.6,996.0 448.5,997.5 454.3,998.6 C460.1,999.7 457.9,999.3 470.0,1001.2 C482.1,1003.1 507.9,1007.4 527.0,1009.8 C546.0,1012.2 565.2,1013.9 584.3,1015.5 C603.4,1017.1 622.3,1018.3 641.4,1019.3 C660.5,1020.3 680.5,1020.7 698.6,1021.3 C716.7,1021.9 730.2,1022.5 750.0,1022.8 C769.8,1023.1 793.4,1023.6 817.6,1023.3 C841.8,1022.9 869.1,1021.9 895.0,1020.7" stroke="#8cc2e8" stroke-width="10.4" transform="translate(0.8,-0.9)"/>
<path d="M257.0,573.0 C259.8,571.8 268.6,567.6 273.8,565.7 C279.0,563.8 283.3,562.5 288.1,561.4 C292.9,560.3 298.6,558.8 302.4,559.0 C306.2,559.2 308.3,560.7 311.0,562.9 C313.7,565.1 316.4,568.8 318.6,572.4 C320.8,576.0 322.6,580.4 324.3,584.8 C326.0,589.2 327.6,594.1 329.0,599.0 C330.4,603.9 331.8,609.5 332.9,614.3 C334.0,619.1 334.8,621.6 335.7,627.6 C336.6,633.6 337.5,641.3 338.4,650.0 C339.3,658.7 340.2,669.3 341.2,680.0 C342.2,690.7 343.2,701.2 344.4,714.0 C345.6,726.8 346.7,739.2 348.2,757.0 C349.7,774.8 351.9,800.1 353.6,821.0 C355.4,841.9 357.5,867.6 358.7,882.4 C359.9,897.2 360.2,900.6 361.0,910.0 C361.8,919.4 362.6,931.0 363.4,938.6 C364.2,946.2 364.8,950.8 366.0,955.7 C367.2,960.6 368.5,964.5 370.5,968.1 C372.5,971.8 375.2,974.9 378.1,977.6 C381.0,980.3 383.6,982.4 387.6,984.3 C391.6,986.2 397.1,987.8 401.9,989.0 C406.7,990.2 410.6,990.4 416.2,991.4 C421.8,992.4 428.8,993.6 435.2,994.8 C441.6,996.0 448.5,997.5 454.3,998.6 C460.1,999.7 457.9,999.3 470.0,1001.2 C482.1,1003.1 507.9,1007.4 527.0,1009.8 C546.0,1012.2 565.2,1013.9 584.3,1015.5 C603.4,1017.1 622.3,1018.3 641.4,1019.3 C660.5,1020.3 680.5,1020.7 698.6,1021.3 C716.7,1021.9 730.2,1022.5 750.0,1022.8 C769.8,1023.1 793.4,1023.6 817.6,1023.3 C841.8,1022.9 869.1,1021.9 895.0,1020.7" stroke="#1c80c4" stroke-width="5.5" transform="translate(-0.5,0.8)"/>
<path d="M895.0,1020.7 C920.9,1019.5 951.1,1017.6 972.7,1016.0 C994.3,1014.4 1007.2,1013.0 1024.4,1010.9 C1041.6,1008.8 1061.7,1005.3 1076.0,1003.1 C1090.3,1000.9 1101.2,999.3 1110.0,997.6" stroke="#e2f0f9" stroke-width="12.9" transform="translate(1,-1)"/>
<path d="M895.0,1020.7 C920.9,1019.5 951.1,1017.6 972.7,1016.0 C994.3,1014.4 1007.2,1013.0 1024.4,1010.9 C1041.6,1008.8 1061.7,1005.3 1076.0,1003.1 C1090.3,1000.9 1101.2,999.3 1110.0,997.6" stroke="#8cc2e8" stroke-width="9.9" transform="translate(0.8,-0.9)"/>
<path d="M895.0,1020.7 C920.9,1019.5 951.1,1017.6 972.7,1016.0 C994.3,1014.4 1007.2,1013.0 1024.4,1010.9 C1041.6,1008.8 1061.7,1005.3 1076.0,1003.1 C1090.3,1000.9 1101.2,999.3 1110.0,997.6" stroke="#1c80c4" stroke-width="5.2" transform="translate(-0.5,0.8)"/>
<path d="M1110.0,997.6 C1118.8,995.9 1122.7,994.3 1129.0,992.9 C1135.3,991.5 1141.7,989.7 1148.0,989.0 C1154.3,988.3 1162.2,989.2 1167.0,988.6 C1171.8,988.0 1174.0,987.2 1176.7,985.2 C1179.4,983.2 1181.4,979.7 1183.3,976.7 C1185.2,973.7 1186.5,970.5 1188.0,967.0 C1189.5,963.5 1190.7,960.0 1192.0,955.7 C1193.3,951.4 1194.6,946.2 1195.7,941.4 C1196.8,936.6 1197.7,932.2 1198.6,927.0 C1199.5,921.8 1199.9,917.4 1201.0,910.0 C1202.1,902.6 1203.4,897.2 1205.0,882.4 C1206.6,867.6 1208.9,841.4 1210.6,821.0 C1212.3,800.6 1214.3,772.8 1215.3,760.0 C1216.3,747.2 1215.8,753.7 1216.6,744.5 C1217.4,735.3 1218.8,717.1 1220.0,705.0 C1221.2,692.9 1222.5,682.0 1223.8,672.0 C1225.1,662.0 1226.5,652.5 1227.6,644.8 C1228.7,637.1 1229.5,631.3 1230.5,625.7 C1231.5,620.1 1232.2,616.5 1233.3,611.4 C1234.4,606.3 1235.8,600.0 1237.1,595.2 C1238.4,590.5 1239.6,586.9 1241.0,582.9 C1242.4,578.9 1244.0,574.6 1245.7,571.4 C1247.4,568.2 1249.2,565.6 1251.4,563.8 C1253.6,562.0 1256.5,560.7 1259.0,560.5 C1261.5,560.3 1263.8,561.4 1266.7,562.4" stroke="#e2f0f9" stroke-width="12.0" transform="translate(1,-1)"/>
<path d="M1110.0,997.6 C1118.8,995.9 1122.7,994.3 1129.0,992.9 C1135.3,991.5 1141.7,989.7 1148.0,989.0 C1154.3,988.3 1162.2,989.2 1167.0,988.6 C1171.8,988.0 1174.0,987.2 1176.7,985.2 C1179.4,983.2 1181.4,979.7 1183.3,976.7 C1185.2,973.7 1186.5,970.5 1188.0,967.0 C1189.5,963.5 1190.7,960.0 1192.0,955.7 C1193.3,951.4 1194.6,946.2 1195.7,941.4 C1196.8,936.6 1197.7,932.2 1198.6,927.0 C1199.5,921.8 1199.9,917.4 1201.0,910.0 C1202.1,902.6 1203.4,897.2 1205.0,882.4 C1206.6,867.6 1208.9,841.4 1210.6,821.0 C1212.3,800.6 1214.3,772.8 1215.3,760.0 C1216.3,747.2 1215.8,753.7 1216.6,744.5 C1217.4,735.3 1218.8,717.1 1220.0,705.0 C1221.2,692.9 1222.5,682.0 1223.8,672.0 C1225.1,662.0 1226.5,652.5 1227.6,644.8 C1228.7,637.1 1229.5,631.3 1230.5,625.7 C1231.5,620.1 1232.2,616.5 1233.3,611.4 C1234.4,606.3 1235.8,600.0 1237.1,595.2 C1238.4,590.5 1239.6,586.9 1241.0,582.9 C1242.4,578.9 1244.0,574.6 1245.7,571.4 C1247.4,568.2 1249.2,565.6 1251.4,563.8 C1253.6,562.0 1256.5,560.7 1259.0,560.5 C1261.5,560.3 1263.8,561.4 1266.7,562.4" stroke="#8cc2e8" stroke-width="9.2" transform="translate(0.8,-0.9)"/>
<path d="M1110.0,997.6 C1118.8,995.9 1122.7,994.3 1129.0,992.9 C1135.3,991.5 1141.7,989.7 1148.0,989.0 C1154.3,988.3 1162.2,989.2 1167.0,988.6 C1171.8,988.0 1174.0,987.2 1176.7,985.2 C1179.4,983.2 1181.4,979.7 1183.3,976.7 C1185.2,973.7 1186.5,970.5 1188.0,967.0 C1189.5,963.5 1190.7,960.0 1192.0,955.7 C1193.3,951.4 1194.6,946.2 1195.7,941.4 C1196.8,936.6 1197.7,932.2 1198.6,927.0 C1199.5,921.8 1199.9,917.4 1201.0,910.0 C1202.1,902.6 1203.4,897.2 1205.0,882.4 C1206.6,867.6 1208.9,841.4 1210.6,821.0 C1212.3,800.6 1214.3,772.8 1215.3,760.0 C1216.3,747.2 1215.8,753.7 1216.6,744.5 C1217.4,735.3 1218.8,717.1 1220.0,705.0 C1221.2,692.9 1222.5,682.0 1223.8,672.0 C1225.1,662.0 1226.5,652.5 1227.6,644.8 C1228.7,637.1 1229.5,631.3 1230.5,625.7 C1231.5,620.1 1232.2,616.5 1233.3,611.4 C1234.4,606.3 1235.8,600.0 1237.1,595.2 C1238.4,590.5 1239.6,586.9 1241.0,582.9 C1242.4,578.9 1244.0,574.6 1245.7,571.4 C1247.4,568.2 1249.2,565.6 1251.4,563.8 C1253.6,562.0 1256.5,560.7 1259.0,560.5 C1261.5,560.3 1263.8,561.4 1266.7,562.4" stroke="#1c80c4" stroke-width="4.8" transform="translate(-0.5,0.8)"/>
<path d="M1266.7,562.4 C1269.6,563.4 1273.0,565.7 1276.2,566.2 C1279.4,566.8 1282.5,565.3 1285.7,565.7 C1288.9,566.1 1292.0,567.3 1295.2,568.6 C1298.4,569.9 1301.6,571.9 1304.8,573.3 C1308.0,574.7 1312.7,576.5 1314.3,577.1" stroke="#e2f0f9" stroke-width="13.6" transform="translate(1,-1)"/>
<path d="M1266.7,562.4 C1269.6,563.4 1273.0,565.7 1276.2,566.2 C1279.4,566.8 1282.5,565.3 1285.7,565.7 C1288.9,566.1 1292.0,567.3 1295.2,568.6 C1298.4,569.9 1301.6,571.9 1304.8,573.3 C1308.0,574.7 1312.7,576.5 1314.3,577.1" stroke="#8cc2e8" stroke-width="10.4" transform="translate(0.8,-0.9)"/>
<path d="M1266.7,562.4 C1269.6,563.4 1273.0,565.7 1276.2,566.2 C1279.4,566.8 1282.5,565.3 1285.7,565.7 C1288.9,566.1 1292.0,567.3 1295.2,568.6 C1298.4,569.9 1301.6,571.9 1304.8,573.3 C1308.0,574.7 1312.7,576.5 1314.3,577.1" stroke="#1c80c4" stroke-width="5.5" transform="translate(-0.5,0.8)"/>
<circle cx="1314.2" cy="122.4" r="4.2" fill="#b2b2b2" stroke="none"/>
<circle cx="1313.4" cy="123.6" r="2.7" fill="#626262" stroke="none"/>
<circle cx="1314.0" cy="316.4" r="4.2" fill="#f6a8b0" stroke="none"/>
<circle cx="1313.2" cy="317.6" r="2.7" fill="#e45e6a" stroke="none"/>
<circle cx="1314.0" cy="576.2" r="4.2" fill="#8cc2e8" stroke="none"/>
<circle cx="1313.2" cy="577.4" r="2.7" fill="#1c80c4" stroke="none"/>
<line x1="711" y1="123.3" x2="804" y2="123.3" stroke="#ececec" stroke-width="13" stroke-linecap="butt"/>
<line x1="711.5" y1="123.1" x2="803.5" y2="123.1" stroke="#b2b2b2" stroke-width="10" stroke-linecap="butt"/>
<line x1="712" y1="125.6" x2="803" y2="125.6" stroke="#626262" stroke-width="6.6" stroke-linecap="butt"/>
<line x1="711" y1="172.2" x2="804" y2="172.2" stroke="#fde8e8" stroke-width="13" stroke-linecap="butt"/>
<line x1="711.5" y1="172.0" x2="803.5" y2="172.0" stroke="#f6a8b0" stroke-width="10" stroke-linecap="butt"/>
<line x1="712" y1="174.5" x2="803" y2="174.5" stroke="#e45e6a" stroke-width="6.6" stroke-linecap="butt"/>
<line x1="711" y1="221.4" x2="804" y2="221.4" stroke="#e2f0f9" stroke-width="13" stroke-linecap="butt"/>
<line x1="711.5" y1="221.2" x2="803.5" y2="221.2" stroke="#8cc2e8" stroke-width="10" stroke-linecap="butt"/>
<line x1="712" y1="223.7" x2="803" y2="223.7" stroke="#1c80c4" stroke-width="6.6" stroke-linecap="butt"/>
</g>
</g>
<g class="leg" filter="url(#soft2)">
<text transform="translate(818.8,140.5) scale(0.760,1)"><tspan style="font-size:46.6px" x="0.0 25.8 54.3 83.8" y="0">0.01</tspan><tspan style="font-size:42.5px" x="106.4" y="-1" textLength="56.8" lengthAdjust="spacingAndGlyphs">mm</tspan></text>
<text transform="translate(818.8,189.7) scale(0.760,1)"><tspan style="font-size:46.6px" x="0.0 25.8 54.3 83.2" y="0">0.02</tspan><tspan style="font-size:42.5px" x="106.4" y="-1" textLength="56.8" lengthAdjust="spacingAndGlyphs">mm</tspan></text>
<text transform="translate(818.8,238.8) scale(0.760,1)"><tspan style="font-size:46.6px" x="0.0 25.8 54.3 83.2" y="0">0.03</tspan><tspan style="font-size:42.5px" x="106.4" y="-1" textLength="56.8" lengthAdjust="spacingAndGlyphs">mm</tspan></text>
</g>
<g class="tick">
<text transform="translate(114.6,125.4) scale(1,1.045)">-0.036</text>
<text transform="translate(114.6,288.4) scale(1,1.045)">-0.038</text>
<text transform="translate(114.6,448.9) scale(1,1.045)">-0.040</text>
<text transform="translate(114.6,611.9) scale(1,1.045)">-0.042</text>
<text transform="translate(114.6,772.4) scale(1,1.045)">-0.044</text>
<text transform="translate(114.6,932.9) scale(1,1.045)">-0.046</text>
<text transform="translate(114.6,1084.4) scale(1,1.045)">-0.048</text>
<text transform="translate(261.3,1158.4) scale(1,1.045)" text-anchor="middle">0.00</text>
<text transform="translate(591.4,1158.4) scale(1,1.045)" text-anchor="middle">1.00</text>
<text transform="translate(953.3,1158.4) scale(1,1.045)" text-anchor="middle">2.00</text>
<text transform="translate(1316.0,1158.4) scale(1,1.045)" text-anchor="middle">3.00</text>
</g>
<text class="title" style="font-size:59px" y="1232.5"><tspan x="423.0" textLength="230.7" lengthAdjust="spacingAndGlyphs">threaded</tspan> <tspan x="665.7" textLength="121.3" lengthAdjust="spacingAndGlyphs">axial</tspan> <tspan x="799.0" textLength="213.8" lengthAdjust="spacingAndGlyphs">distance</tspan> <tspan x="1027.5" textLength="137.7" lengthAdjust="spacingAndGlyphs">(mm)</tspan></text>
<text class="title" style="font-size:54px;stroke-width:1px" transform="translate(68,0) rotate(-90)" y="0"><tspan x="-992.9" textLength="226.9" lengthAdjust="spacingAndGlyphs">cathode</tspan> <tspan x="-751.8" textLength="207.7" lengthAdjust="spacingAndGlyphs">current</tspan> <tspan x="-533.5" textLength="209.2" lengthAdjust="spacingAndGlyphs">density</tspan> <tspan x="-310.3" textLength="186.4" lengthAdjust="spacingAndGlyphs">(A/m²)</tspan></text>
</svg>
</body>
</html>
